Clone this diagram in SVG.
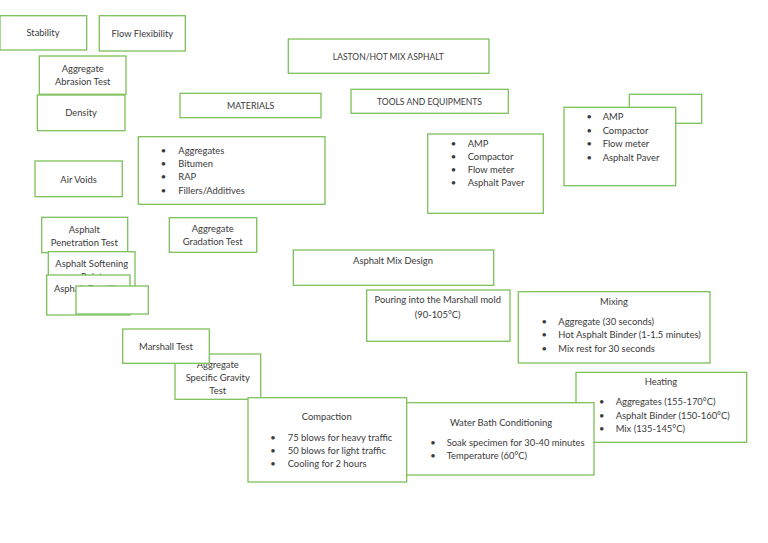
<svg xmlns="http://www.w3.org/2000/svg" width="768" height="543" viewBox="0 0 768 543">
<style>
rect{fill:#fff;stroke:#7cc05a;stroke-width:1.3}
text{font-family:Lato,"Open Sans","Liberation Sans",sans-serif;font-size:9.4px;fill:#3a3a3a}
.c{text-anchor:middle}
</style>
<rect x="0" y="0" width="768" height="543" style="stroke:none"/>
<g id="connectors"></g>
<g id="stability"><rect x="0" y="15.7" width="86.7" height="34.3"/><text class="c" x="43" y="35.8">Stability</text></g>
<g id="flow-flexibility"><rect x="99.3" y="15.7" width="86" height="35.3"/><text class="c" x="142.3" y="36.8">Flow Flexibility</text></g>
<g id="aggregate-abrasion"><rect x="39.3" y="56" width="86.7" height="38.3"/><text class="c" x="82.7" y="72.2">Aggregate</text><text class="c" x="82.7" y="85.2">Abrasion Test</text></g>
<g id="density"><rect x="37.3" y="95" width="87.7" height="35.7"/><text class="c" x="81" y="116.2">Density</text></g>
<g id="air-voids"><rect x="35" y="161" width="87.3" height="35.7"/><text class="c" x="78.5" y="182.5">Air Voids</text></g>
<g id="asphalt-penetration"><rect x="41.7" y="217.3" width="86" height="35.4"/><text class="c" x="84.3" y="232.5">Asphalt</text><text class="c" x="84.3" y="245.8">Penetration Test</text></g>
<g id="asphalt-softening"><rect x="48.3" y="251.7" width="86.7" height="38"/><text class="c" x="91.7" y="266.8">Asphalt Softening</text><text class="c" x="91.7" y="279.8">Point</text></g>
<g id="asphalt-ductility"><rect x="46.7" y="275" width="83.3" height="40"/><text class="c" x="88.3" y="292.2">Asphalt Ductility</text></g>
<g id="empty-box-left"><rect x="76" y="286" width="72.3" height="28"/></g>
<g id="aggregate-gradation"><rect x="169.3" y="217.7" width="87.4" height="34.6"/><text class="c" x="212.7" y="232.2">Aggregate</text><text class="c" x="212.7" y="244.5">Gradation Test</text></g>
<g id="aggregate-specific-gravity"><rect x="175" y="354" width="85.7" height="45.3"/><text class="c" x="217.7" y="367.8">Aggregate</text><text class="c" x="217.7" y="380.8">Specific Gravity</text><text class="c" x="217.7" y="393.5">Test</text></g>
<g id="marshall-test"><rect x="122.7" y="329" width="86.6" height="34.3"/><text class="c" x="166" y="350.2">Marshall Test</text></g>
<g id="laston"><rect x="288.3" y="39" width="200.7" height="34.3"/><text class="c" x="388.3" y="60.2" textLength="111" lengthAdjust="spacingAndGlyphs">LASTON/HOT MIX ASPHALT</text></g>
<g id="materials"><rect x="180" y="93.3" width="141" height="24.4"/><text class="c" x="250.7" y="109.2" textLength="47.5" lengthAdjust="spacingAndGlyphs">MATERIALS</text></g>
<g id="tools"><rect x="351" y="89.3" width="157.3" height="24"/><text class="c" x="429.5" y="104.5" textLength="105" lengthAdjust="spacingAndGlyphs">TOOLS AND EQUIPMENTS</text></g>
<g id="materials-list"><rect x="138.3" y="136.7" width="186.7" height="67.6"/>
<text x="160.8" y="154.2">•</text><text x="178.3" y="154.2">Aggregates</text>
<text x="160.8" y="167.2">•</text><text x="178.3" y="167.2">Bitumen</text>
<text x="160.8" y="180.2">•</text><text x="178.3" y="180.2">RAP</text>
<text x="160.8" y="193.5">•</text><text x="178.3" y="193.5">Fillers/Additives</text></g>
<g id="tools-list"><rect x="427.7" y="134" width="115.6" height="79.3"/>
<text x="450.8" y="146.8">•</text><text x="467.7" y="146.8">AMP</text>
<text x="450.8" y="159.8">•</text><text x="467.7" y="159.8">Compactor</text>
<text x="450.8" y="172.8">•</text><text x="467.7" y="172.8">Flow meter</text>
<text x="450.8" y="185.8">•</text><text x="467.7" y="185.8">Asphalt Paver</text></g>
<g id="empty-box-right"><rect x="629.3" y="94.3" width="72.4" height="29"/></g>
<g id="tools-list-2"><rect x="564" y="107.3" width="111.7" height="78.4"/>
<text x="586.4" y="119.5">•</text><text x="602.7" y="119.5">AMP</text>
<text x="586.4" y="133.8">•</text><text x="602.7" y="133.8">Compactor</text>
<text x="586.4" y="146.8">•</text><text x="602.7" y="146.8">Flow meter</text>
<text x="586.4" y="160.8">•</text><text x="602.7" y="160.8">Asphalt Paver</text></g>
<g id="asphalt-mix-design"><rect x="293.3" y="250" width="200.4" height="35.3"/><text class="c" x="393" y="263.5">Asphalt Mix Design</text></g>
<g id="pouring"><rect x="366.7" y="290" width="143.3" height="51.3"/><text class="c" x="437.7" y="302.5">Pouring into the Marshall mold</text><text class="c" x="437.7" y="317.8">(90-105°C)</text></g>
<g id="mixing"><rect x="518.3" y="291.7" width="191.7" height="71.3"/><text class="c" x="614" y="304.5">Mixing</text>
<text x="541.4" y="325.2">•</text><text x="558.3" y="325.2">Aggregate (30 seconds)</text>
<text x="541.4" y="337.8">•</text><text x="558.3" y="337.8">Hot Asphalt Binder (1-1.5 minutes)</text>
<text x="541.4" y="352.2">•</text><text x="558.3" y="352.2">Mix rest for 30 seconds</text></g>
<g id="heating"><rect x="576" y="372.3" width="170.7" height="70"/><text class="c" x="661" y="385.2">Heating</text>
<text x="599" y="405.2">•</text><text x="615.7" y="405.2">Aggregates (155-170°C)</text>
<text x="599" y="419.2">•</text><text x="615.7" y="419.2">Asphalt Binder (150-160°C)</text>
<text x="599" y="431.8">•</text><text x="615.7" y="431.8">Mix (135-145°C)</text></g>
<g id="water-bath"><rect x="400" y="402.7" width="194" height="72.3"/><text class="c" x="501" y="425.5">Water Bath Conditioning</text>
<text x="430.2" y="446.2">•</text><text x="446.7" y="446.2">Soak specimen for 30-40 minutes</text>
<text x="430.2" y="458.5">•</text><text x="446.7" y="458.5">Temperature (60°C)</text></g>
<g id="compaction"><rect x="248" y="397.7" width="158.7" height="84.3"/><text class="c" x="326.7" y="420.2">Compaction</text>
<text x="270.2" y="440.5">•</text><text x="287.7" y="440.5">75 blows for heavy traffic</text>
<text x="270.2" y="454.2">•</text><text x="287.7" y="454.2">50 blows for light traffic</text>
<text x="270.2" y="467.2">•</text><text x="287.7" y="467.2">Cooling for 2 hours</text></g>
</svg>
